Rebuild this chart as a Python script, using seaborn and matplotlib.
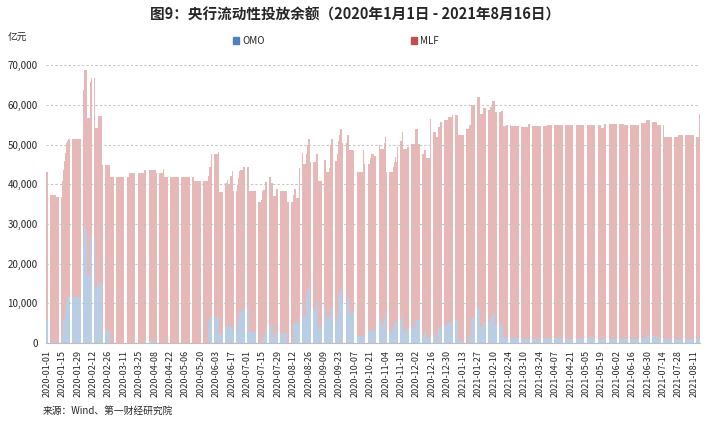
import numpy as np
import pandas as pd
import seaborn as sns
import matplotlib.pyplot as plt
from matplotlib.patches import Patch
from matplotlib.ticker import FuncFormatter

# 余额读数（亿元）：每段的起始日序号、OMO+MLF 合计、OMO
seg_start = [0, 3, 9, 14, 15, 16, 17, 18, 19, 20, 33, 34, 37, 40, 41, 44, 47, 51, 58, 75,
             89, 100, 106, 107, 134, 147, 148, 150, 156, 157, 161, 162, 164, 165, 167, 169, 170, 173, 174, 175,
             176, 179, 184, 191, 195, 196, 197, 199, 202, 204, 206, 209, 211, 212, 219, 224, 225, 227, 230, 231,
             232, 233, 236, 237, 238, 240, 245, 247, 251, 252, 254, 257, 258, 259, 261, 264, 265, 266, 267, 269,
             273, 275, 282, 288, 289, 292, 294, 295, 298, 300, 302, 303, 307, 308, 309, 315, 316, 317, 318, 319,
             321, 323, 324, 328, 330, 331, 335, 338, 340, 343, 345, 349, 351, 354, 356, 358, 360, 365, 369, 374,
             380, 384, 386, 391, 394, 397, 400, 401, 403, 405, 408, 413, 415, 418, 422, 430, 438, 440, 455, 469,
             486, 500, 504, 507, 525, 540, 545, 549, 555, 561, 574, 589, 593]
seg_total = [43000, 37300, 36700, 40800, 43700, 45800, 47800, 50300, 51000, 51500, 63700, 68750, 56800, 65800, 66800, 54200, 57100, 44800, 41900, 42900,
             43500, 42800, 43800, 41900, 40800, 42100, 44400, 47600, 48200, 38100, 39400, 40200, 41000, 40000, 42000, 43300, 38400, 39900, 41500, 43300,
             43500, 44300, 38300, 35600, 35900, 38300, 38500, 40600, 41900, 40200, 37000, 38900, 39400, 38300, 35600, 37300, 38900, 36400, 44000, 45200,
             47900, 45000, 47600, 49900, 51300, 45500, 47600, 40800, 43500, 46000, 43100, 44000, 49900, 51300, 45800, 47600, 50800, 52500, 53900, 50500,
             52500, 48600, 43000, 48500, 45000, 45200, 46500, 47600, 47100, 48600, 50000, 48800, 50500, 51900, 43100, 44400, 45600, 46900, 45500, 49400,
             50800, 53100, 48800, 49400, 51100, 50200, 53900, 50200, 47600, 48500, 46700, 56400, 53100, 52000, 54500, 55700, 56100, 57000, 57400, 52400,
             53900, 55000, 59900, 62000, 57600, 59100, 61600, 58700, 59500, 60900, 58200, 58400, 54700, 55000, 54600, 54400, 55300, 54700, 54900, 55000,
             54800, 55000, 54200, 55100, 55000, 55400, 56100, 55600, 55000, 51900, 52300, 52000, 57800]
seg_omo = [6000, 300, 0, 2000, 6000, 6200, 8000, 10500, 11500, 11700, 23800, 28700, 16900, 25900, 26800, 14000, 15200, 2900, 0, 0,
           600, 0, 0, 0, 0, 5000, 6500, 6500, 6500, 2200, 2500, 4100, 5400, 4100, 4100, 4100, 2900, 4100, 5500, 7900,
           8000, 8700, 2700, 0, 600, 1000, 1500, 3300, 4300, 4500, 1600, 2900, 3900, 2600, 0, 4500, 4900, 4900, 6200, 7900,
           9600, 6500, 11200, 12800, 14200, 8300, 10400, 3900, 7000, 9100, 6200, 6800, 7900, 9100, 4900, 7000, 11200, 12500, 13200, 10000,
           11600, 7600, 1800, 1600, 1600, 2900, 2900, 3200, 3200, 4900, 7000, 4900, 6600, 8000, 3000, 4100, 5600, 5400, 5400, 5400,
           5800, 7200, 2900, 3700, 5400, 4100, 5800, 6000, 2000, 3000, 1300, 1500, 2200, 400, 4100, 4100, 4500, 5400, 5800, 600,
           100, 2000, 6400, 8700, 4100, 5400, 7900, 5400, 6200, 7400, 4500, 4700, 1200, 1600, 1200, 900, 1100, 1000, 1200, 1000,
           1200, 900, 1000, 1100, 900, 1200, 2000, 1700, 1000, 900, 1100, 900, 900]

dates = pd.date_range('2020-01-01', '2021-08-16', freq='D')
lengths = np.diff(seg_start + [len(dates)])
omo = np.repeat(seg_omo, lengths)
total = np.repeat(seg_total, lengths)
df = pd.DataFrame({'date': dates.strftime('%Y-%m-%d'), 'OMO': omo, 'MLF': total - omo})
df['stack'] = df['OMO'] + df['MLF']

sns.set_style('white')
plt.rcParams['font.family'] = ['Noto Sans CJK SC', 'DejaVu Sans']

fig = plt.figure(figsize=(7.1, 4.26), dpi=100)
ax = fig.add_axes([0.065, 0.195, 0.921, 0.652])

# 堆叠：先画合计（MLF 颜色），再在底部盖上 OMO
sns.barplot(data=df, x='date', y='stack', color='#e6b9b8', saturation=1,
            width=0.8, linewidth=0, errorbar=None, ax=ax)
sns.barplot(data=df, x='date', y='OMO', color='#b9cde5', saturation=1,
            width=0.8, linewidth=0, errorbar=None, ax=ax)

ax.set_xlim(-0.6, len(df) - 0.4)
ax.set_ylim(0, 70000)
ax.set_yticks(range(0, 70001, 10000))
ax.yaxis.set_major_formatter(FuncFormatter(lambda v, p: f'{int(v):,}'))
ax.set_xticks(range(0, len(df), 14))
ax.set_xticklabels(df['date'][::14], rotation=90, fontsize=6.5)
ax.tick_params(axis='x', length=3, color='#bfbfbf', pad=2)
ax.tick_params(axis='y', length=0, labelsize=7, pad=6)
ax.yaxis.grid(True, ls=(0, (2, 2)), color='#c4c4c4', lw=0.8)
ax.set_axisbelow(False)
for s in ['left', 'top', 'right']:
    ax.spines[s].set_visible(False)
ax.spines['bottom'].set_color('#bfbfbf')
ax.set_xlabel('')
ax.set_ylabel('')

fig.text(0.5, 0.967, '图9：央行流动性投放余额（2020年1月1日 - 2021年8月16日）',
         ha='center', va='center', fontsize=10.5, fontweight='bold')
fig.text(0.011, 0.91, '亿元', fontsize=7, va='center')
handles = [Patch(color='#4f81bd'), Patch(color='#c0504d')]
fig.legend(handles, ['OMO', 'MLF'], loc='center', bbox_to_anchor=(0.473, 0.904),
           ncol=2, frameon=False, fontsize=7, handlelength=0.7, handleheight=0.7,
           handletextpad=0.3, columnspacing=15)
fig.text(0.06, 0.035, '来源：Wind、第一财经研究院', fontsize=7, va='center')

fig.savefig('out.png', dpi=100)
